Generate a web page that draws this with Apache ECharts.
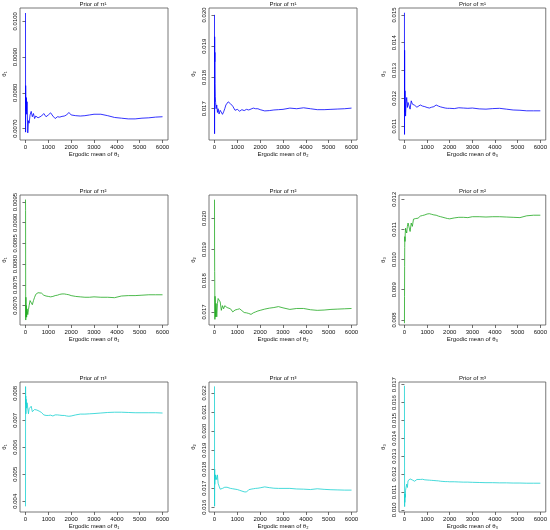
<!DOCTYPE html>
<html>
<head>
<meta charset="utf-8">
<script src="https://cdn.jsdelivr.net/npm/echarts@6/dist/echarts.min.js"></script>
<style>html,body{margin:0;padding:0;background:#fff}#c{width:550px;height:530px}</style>
</head>
<body>
<div id="c"></div>
<script>
// ---- data ----
const iters = [1,4,8,12,18,25,35,50,70,100,130,160,200,250,300,350,400,450,500,550,600,700,800,900,1000,1100,1200,1300,1400,1500,1600,1700,1800,1900,2000,2200,2400,2600,2800,3000,3300,3600,3900,4200,4500,4800,5100,5400,5700,6000];

const valsP1 = [0.01023,0.0069,0.0082,0.0077,0.00788,0.0075,0.00785,0.0074,0.00775,0.00688,0.00722,0.00715,0.00738,0.00748,0.00733,0.00742,0.00728,0.00735,0.00738,0.0073,0.00725,0.00735,0.00742,0.00733,0.00738,0.00744,0.00735,0.00728,0.00733,0.00732,0.00734,0.00735,0.00738,0.00745,0.00738,0.00736,0.00735,0.00736,0.00738,0.0074,0.0074,0.00736,0.00731,0.00729,0.00727,0.00727,0.00729,0.0073,0.00732,0.00733];
const valsP2 = [0.0200,0.0162,0.0193,0.0185,0.0188,0.0178,0.0174,0.0172,0.0170,0.01712,0.01688,0.0170,0.01683,0.01695,0.0169,0.01682,0.0169,0.0170,0.01712,0.01718,0.01722,0.01716,0.01708,0.01695,0.01698,0.01692,0.01697,0.01694,0.01698,0.01696,0.01699,0.01702,0.0170,0.0170,0.01697,0.01693,0.01694,0.01696,0.01697,0.01698,0.01702,0.0170,0.01703,0.0170,0.01697,0.01697,0.01698,0.01699,0.0170,0.01702];
const valsP3 = [0.01508,0.0107,0.01373,0.0124,0.0115,0.01227,0.0119,0.01136,0.0118,0.01203,0.01167,0.01185,0.01191,0.01161,0.01191,0.01179,0.01185,0.01175,0.0117,0.01168,0.01165,0.01176,0.01172,0.0117,0.01167,0.01165,0.01168,0.0117,0.01176,0.01172,0.01169,0.01167,0.01165,0.01164,0.01164,0.01163,0.01166,0.01165,0.01164,0.01165,0.01162,0.01161,0.01163,0.01164,0.01161,0.01158,0.01157,0.01155,0.01155,0.01155];
const valsP4 = [0.00956,0.0093,0.0074,0.00665,0.0072,0.00672,0.0070,0.00672,0.00692,0.00678,0.0069,0.0070,0.00712,0.00712,0.00702,0.00712,0.0072,0.00727,0.0073,0.00731,0.00732,0.0073,0.00725,0.00723,0.00722,0.00721,0.00722,0.00724,0.00725,0.00727,0.00728,0.00728,0.00727,0.00726,0.00724,0.00722,0.00721,0.0072,0.0072,0.00721,0.0072,0.0072,0.00719,0.00723,0.00724,0.00724,0.00725,0.00726,0.00726,0.00726];
const valsP5 = [0.0206,0.0190,0.0183,0.0180,0.01676,0.0175,0.0173,0.01684,0.01727,0.01684,0.01727,0.01743,0.01748,0.01732,0.01705,0.0172,0.0171,0.0172,0.01718,0.01714,0.01716,0.0171,0.0170,0.01706,0.01708,0.0171,0.01704,0.01698,0.01697,0.01695,0.01692,0.01697,0.0170,0.01703,0.01705,0.01709,0.01712,0.01714,0.01717,0.01713,0.01708,0.01711,0.01711,0.01707,0.01705,0.01706,0.01708,0.01709,0.0171,0.01711];
const valsP6 = [0.00789,0.00877,0.00977,0.0104,0.01076,0.0106,0.01085,0.01104,0.01095,0.01088,0.0111,0.01121,0.01127,0.01093,0.01121,0.0111,0.01134,0.01132,0.01136,0.01139,0.01137,0.01144,0.01146,0.01148,0.01151,0.01152,0.0115,0.01148,0.01147,0.01144,0.01142,0.0114,0.01138,0.01136,0.01135,0.01138,0.0114,0.0114,0.01139,0.01142,0.01142,0.01141,0.01142,0.01142,0.01141,0.0114,0.01139,0.01145,0.01147,0.01147];
const valsP7 = [0.00381,0.00825,0.0076,0.0079,0.00724,0.00778,0.0077,0.00745,0.00765,0.0076,0.00724,0.00743,0.00738,0.00752,0.00732,0.00738,0.0074,0.00734,0.00738,0.00735,0.00734,0.00729,0.0072,0.00718,0.00718,0.00719,0.00716,0.0072,0.0072,0.00719,0.00718,0.00718,0.00716,0.00715,0.00716,0.0072,0.00723,0.00723,0.00724,0.00725,0.00727,0.00729,0.0073,0.0073,0.00729,0.00728,0.00728,0.00728,0.00728,0.00727];
const valsP8 = [0.02235,0.01605,0.0180,0.0172,0.0177,0.0176,0.01745,0.0177,0.01766,0.01745,0.0177,0.01726,0.01711,0.01695,0.01685,0.01699,0.0170,0.01705,0.0171,0.01705,0.01702,0.01699,0.01697,0.01695,0.01693,0.01689,0.01685,0.01681,0.0168,0.01692,0.01695,0.01697,0.01699,0.0170,0.01702,0.01707,0.01703,0.0170,0.01699,0.01699,0.01699,0.01696,0.01695,0.01693,0.01697,0.01694,0.01692,0.01691,0.0169,0.0169];
const valsP9 = [0.01694,0.01313,0.01018,0.01089,0.01042,0.0109,0.0107,0.0111,0.01107,0.01144,0.01125,0.01163,0.01158,0.01173,0.01168,0.01167,0.01174,0.0116,0.01167,0.0117,0.0117,0.0117,0.01171,0.01168,0.01167,0.01166,0.01165,0.01164,0.01163,0.01162,0.0116,0.01159,0.01158,0.01158,0.01157,0.01157,0.01156,0.01155,0.01155,0.01154,0.01153,0.01152,0.01152,0.01151,0.01151,0.0115,0.0115,0.01149,0.01149,0.01149];

const xTickLabels = ["0","1000","2000","3000","4000","5000","6000"];
const yTicksP1 = ["0.0070","0.0080","0.0090","0.0100"];
const yTicksP2 = ["0.017","0.018","0.019","0.020"];
const yTicksP3 = ["0.011","0.012","0.013","0.014","0.015"];
const yTicksP4 = ["0.0070","0.0075","0.0080","0.0085","0.0090","0.0095"];
const yTicksP5 = ["0.017","0.018","0.019","0.020"];
const yTicksP6 = ["0.008","0.009","0.010","0.011","0.012"];
const yTicksP7 = ["0.004","0.005","0.006","0.007","0.008"];
const yTicksP8 = ["0.016","0.017","0.018","0.019","0.020","0.021","0.022"];
const yTicksP9 = ["0.010","0.011","0.012","0.013","0.014","0.015","0.016","0.017"];

const rowTitles = ["Prior of π¹","Prior of π²","Prior of π³"];
const xNames = ["Ergodic mean of θ₁","Ergodic mean of θ₂","Ergodic mean of θ₃"];
const yNames = ["θ₁","θ₂","θ₃"];

// ---- layout / style ----
const panels = [
  {v:valsP1,t:yTicksP1,min:0.00668,max:0.01037},
  {v:valsP2,t:yTicksP2,min:0.0160,max:0.02022},
  {v:valsP3,t:yTicksP3,min:0.0105,max:0.01525},
  {v:valsP4,t:yTicksP4,min:0.00653,max:0.00967},
  {v:valsP5,t:yTicksP5,min:0.01658,max:0.02075},
  {v:valsP6,t:yTicksP6,min:0.00783,max:0.01214},
  {v:valsP7,t:yTicksP7,min:0.0036,max:0.00842},
  {v:valsP8,t:yTicksP8,min:0.01575,max:0.02258},
  {v:valsP9,t:yTicksP9,min:0.00988,max:0.01715}
];
const colLeft = [18,209,399], colW = [150,148,147];
const rowTop = [8,195,382], rowH = [132,130,130];
const rowColor = ['#0000ff','#1fa81f','#18d0d0'];
const FONT = 'Liberation Sans, Arial, sans-serif';

const grids=[],xAxes=[],yAxes=[],series=[],titles=[];
const xVals = xTickLabels.map(Number);
panels.forEach((p,i)=>{
  const r=Math.floor(i/3), c=i%3;
  grids.push({left:colLeft[c],top:rowTop[r],width:colW[c],height:rowH[r],show:true,borderColor:'#555',borderWidth:0.8,containLabel:false});
  xAxes.push({type:'value',gridIndex:i,min:-240,max:6240,
    axisLine:{show:false},splitLine:{show:false},
    axisTick:{show:true,length:3,customValues:xVals,lineStyle:{color:'#333',width:0.7}},
    axisLabel:{customValues:xVals,fontSize:6,margin:4,color:'#111',fontFamily:FONT,formatter:v=>String(v)},
    name:xNames[c],nameLocation:'middle',nameGap:10,
    nameTextStyle:{fontSize:6,color:'#111',fontFamily:FONT}});
  const tv=p.t.map(Number);
  yAxes.push({type:'value',gridIndex:i,min:p.min,max:p.max,
    axisLine:{show:false},splitLine:{show:false},
    axisTick:{show:true,length:3,customValues:tv,lineStyle:{color:'#333',width:0.7}},
    axisLabel:{customValues:tv,rotate:90,fontSize:6,margin:2,color:'#111',fontFamily:FONT,
      formatter:v=>{const s=p.t.find(x=>Math.abs(Number(x)-v)<1e-9);return s||'';}},
    name:yNames[c],nameLocation:'middle',nameRotate:90,nameGap:13,
    nameTextStyle:{fontSize:6,color:'#111',fontFamily:FONT}});
  series.push({type:'line',xAxisIndex:i,yAxisIndex:i,showSymbol:false,
    data:iters.map((x,k)=>[x,p.v[k]]),
    lineStyle:{color:rowColor[r],width:0.8},itemStyle:{color:rowColor[r]},silent:true});
  titles.push({text:rowTitles[r],left:colLeft[c]+colW[c]/2,top:rowTop[r]-7,textAlign:'center',padding:0,
    textStyle:{fontSize:6,fontWeight:'normal',color:'#111',fontFamily:FONT}});
});

const chart=echarts.init(document.getElementById('c'),null,{renderer:'canvas'});
chart.setOption({animation:false,backgroundColor:'#fff',title:titles,grid:grids,xAxis:xAxes,yAxis:yAxes,series:series});
</script>
</body>
</html>
